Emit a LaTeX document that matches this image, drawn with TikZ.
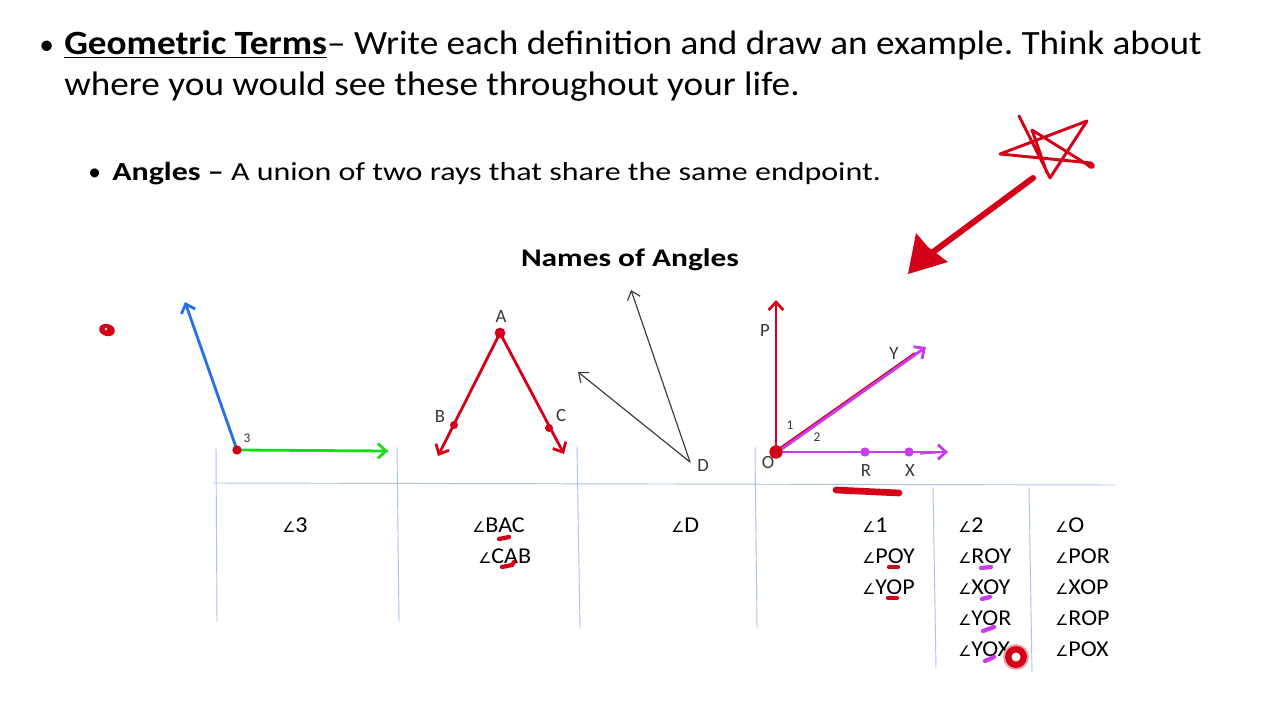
\documentclass[tikz,border=0pt]{standalone}
\usepackage{fontspec}
\setmainfont{Carlito}
\newfontfamily\symf{DejaVu Sans}
\newfontfamily\titlef[FakeStretch=1.095]{Carlito}
\newfontfamily\anglef[FakeStretch=1.23]{Carlito}
\newfontfamily\namef[FakeStretch=1.24]{Carlito}
\newfontfamily\cellf[FakeStretch=1.06]{Carlito}
\usetikzlibrary{arrows.meta}
\definecolor{pred}{RGB}{212,0,24}
\definecolor{pmag}{RGB}{200,60,235}
\definecolor{pgreen}{RGB}{20,225,20}
\definecolor{pblue}{RGB}{40,110,230}
\definecolor{tline}{RGB}{170,195,230}
\definecolor{lblgray}{RGB}{55,55,55}
\newcommand{\ang}{{\symf\fontsize{11}{11}\selectfont ∠}}
\frenchspacing
\begin{document}
\begin{tikzpicture}[x=0.75pt,y=-0.75pt,
  ray/.style={line width=2.1pt, line cap=round, -{Straight Barb[length=6pt,width=11pt,line width=2.1pt]}},
  thinray/.style={line width=0.9pt, line cap=round, -{Straight Barb[length=6pt,width=10pt,line width=0.9pt]}},
  cell/.style={font=\cellf\fontsize{17}{17}\selectfont, anchor=base west, inner sep=0pt},
  lbl/.style={font=\fontsize{14}{14}\selectfont, text=lblgray, inner sep=0pt},
  smalllbl/.style={font=\fontsize{10}{10}\selectfont, text=lblgray, inner sep=0pt},
  tl/.style={draw=tline, line width=0.7pt},
  pdot/.style={circle, fill=#1, inner sep=0pt, minimum size=7pt},
  mark/.style={line width=3.2pt, line cap=round, #1}
]
\useasboundingbox (0,0) rectangle (1280,720);
\fill[white] (0,0) rectangle (1280,720);

% ---- heading text
\node[anchor=base west, inner sep=0pt, font=\fontsize{22}{22}\selectfont] (b1) at (39,55) {•};
\node[anchor=base west, inner sep=0pt, font=\titlef\fontsize{25.5}{25.5}\selectfont] (t1) at (64,55)
  {\textbf{\underline{Geometric Terms}}– Write each definition and draw an example. Think about};
\node[anchor=base west, inner sep=0pt, font=\titlef\fontsize{25.5}{25.5}\selectfont] (t2) at (64,96)
  {where you would see these throughout your life.};
\node[anchor=base west, inner sep=0pt, font=\fontsize{19}{19}\selectfont] (b2) at (88,181) {•};
\node[anchor=base west, inner sep=0pt, font=\anglef\fontsize{19.5}{19.5}\selectfont] (t3) at (112,181)
  {\textbf{Angles –} A union of two rays that share the same endpoint.};
\node[anchor=base, inner sep=0pt, font=\namef\fontsize{19}{19}\selectfont\bfseries] (t4) at (630,266) {Names of Angles};

% ---- table lines
\coordinate (h1) at (213,483); \coordinate (h2) at (1115,485);
\draw[tl] (h1) -- (h2);
\coordinate (va1) at (216,447); \coordinate (vb1) at (217,622); \draw[tl] (va1) -- (vb1);
\coordinate (va2) at (397,447); \coordinate (vb2) at (399,622); \draw[tl] (va2) -- (vb2);
\coordinate (va3) at (577,447); \coordinate (vb3) at (580,628); \draw[tl] (va3) -- (vb3);
\coordinate (va4) at (755,447); \coordinate (vb4) at (757,628); \draw[tl] (va4) -- (vb4);
\coordinate (va5) at (933,487); \coordinate (vb5) at (936,668); \draw[tl] (va5) -- (vb5);
\coordinate (va6) at (1029,487); \coordinate (vb6) at (1032,672); \draw[tl] (va6) -- (vb6);

% ---- table cells
\node[cell] (c3) at (282,532) {\ang3};
\node[cell] (cbac) at (472,532) {\ang BAC};
\node[cell] (ccab) at (478,563) {\ang CAB};
\node[cell] (cd) at (671,532) {\ang D};
\node[cell] (c1) at (862,532) {\ang 1};
\node[cell] (cpoy) at (862,563) {\ang POY};
\node[cell] (cyop) at (862,594) {\ang YOP};
\node[cell] (c2) at (958,532) {\ang 2};
\node[cell] (croy) at (958,563) {\ang ROY};
\node[cell] (cxoy) at (958,594) {\ang XOY};
\node[cell] (cyor) at (958,625) {\ang YOR};
\node[cell] (cyox) at (958,656) {\ang YOX};
\node[cell] (co) at (1055,532) {\ang O};
\node[cell] (cpor) at (1055,563) {\ang POR};
\node[cell] (cxop) at (1055,594) {\ang XOP};
\node[cell] (crop) at (1055,625) {\ang ROP};
\node[cell] (cpox) at (1055,656) {\ang POX};

% ---- underline marks
\draw[mark=pred] (499,539) -- (509,537);
\draw[mark=pred] (502,567) -- (512,565) -- (514,562);
\draw[mark=pred] (889,567) -- (898,567);
\draw[mark=pred] (888,598) -- (897,598);
\draw[mark=pmag] (981,568) -- (991,567);
\draw[mark=pmag] (982,599) -- (990,597);
\draw[mark=pmag] (983,631) -- (994,627);
\draw[mark=pmag] (985,661) -- (994,657);
\draw[line width=5pt, line cap=round, pred] (836,490) -- (899,493);

% ---- angle 3
\coordinate (v3) at (237,450);
\coordinate (v3a) at (185,302);
\coordinate (v3b) at (388,451);
\coordinate (v3g) at (330,451);
\draw[ray, pblue] (v3) -- (v3a);
\draw[line width=1pt, gray!70!black] (v3g) -- (v3b);
\draw[ray, pgreen] (v3) -- (v3b);
\node[pdot=pred] (d3) at (v3) {};
\node[smalllbl] (l3) at (247,438) {3};

% ---- angle BAC
\coordinate (vA) at (500,333);
\coordinate (vB) at (454,425);
\coordinate (vC) at (549,428);
\coordinate (eB) at (438,456);
\coordinate (eC) at (564,454);
\draw[ray, pred] (vA) -- (eB);
\draw[ray, pred] (vA) -- (eC);
\node[pdot=pred, minimum size=8pt] (dA) at (vA) {};
\node[pdot=pred, minimum size=6pt] (dB) at (vB) {};
\node[pdot=pred, minimum size=6pt] (dC) at (vC) {};
\node[lbl] (lA) at (501,317) {A};
\node[lbl] (lB) at (440,417) {B};
\node[lbl] (lC) at (561,416) {C};

% ---- angle D
\coordinate (vD) at (690,462);
\coordinate (eD1) at (631,290);
\coordinate (eD2) at (578,372);
\draw[thinray, black!75] (vD) -- (eD1);
\draw[thinray, black!75] (vD) -- (eD2);
\node[lbl] (lD) at (703,466) {D};

% ---- angle O
\coordinate (vO) at (776,452);
\coordinate (eP) at (776,300);
\coordinate (eY) at (926,347);
\coordinate (eX) at (948,452);
\coordinate (vR) at (865,452);
\coordinate (vX) at (909,452);
\draw[ray, pred] (vO) -- (eP);
\draw[line width=2.8pt, pred, line cap=round] (vO) -- (915,354);
\draw[ray, pmag] ([yshift=-0.8]vO) -- (eY);
\draw[line width=1pt, gray] (920,454) -- (eX);
\draw[ray, pmag] (vO) -- (eX);
\node[pdot=pred, minimum size=10pt] (dO) at (vO) {};
\node[pdot=pmag, minimum size=7pt] (dR) at (vR) {};
\node[pdot=pmag, minimum size=7pt] (dX) at (vX) {};
\node[lbl] (lO) at (768,463) {O};
\node[lbl] (lP) at (765,331) {P};
\node[lbl] (lY) at (894,354) {Y};
\node[lbl] (lR) at (866,471) {R};
\node[lbl] (lX) at (910,471) {X};
\node[smalllbl] (l1) at (790,425) {1};
\node[smalllbl] (l2) at (817,437) {2};

% ---- red dot at left
\fill[pred, rotate around={-15:(107,330)}] (107,330) ellipse [x radius=8, y radius=6];
\fill[white] (106,329) circle (1.3);

% ---- star and arrow
\draw[pred, line width=2.2pt, line cap=round, line join=round]
  (1019,116) -- (1050,178) -- (1087,121) -- (1000,154) -- (1091,163)
  .. controls (1096,166) and (1092,170) .. (1088,165) -- (1032,130) -- (1047,173);
\coordinate (aS) at (1033,178);
\coordinate (aE) at (925,258);
\draw[pred, line width=4.5pt, line cap=round] (aS) -- (aE);
\fill[pred] (908,274) -- (916,233) -- (928,247) -- (948,262) -- cycle;

% ---- cursor ring
\fill[pred!35] (1016,657) circle (13);
\fill[pred] (1016,657) circle (11);
\fill[white] (1016,657) circle (4.5);
\end{tikzpicture}
\end{document}
